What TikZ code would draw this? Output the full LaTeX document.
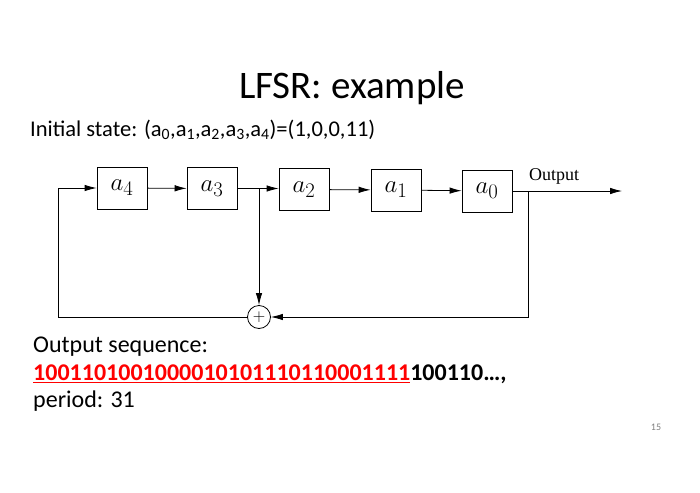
\documentclass[tikz,border=0pt]{standalone}
\usepackage{fontspec}
\setmainfont{Carlito}
\newfontfamily\serifout{Liberation Serif}
\usetikzlibrary{arrows.meta}
\begin{document}
\begin{tikzpicture}[x=1pt,y=-1pt,
  reg/.style={draw,line width=0.8pt,minimum width=50pt,minimum height=42pt,inner sep=0pt,font=\fontsize{28}{28}\selectfont},
  ar/.style={line width=0.8pt,-{Latex[length=12pt,width=6.5pt]}},
  ln/.style={line width=0.8pt}]
\useasboundingbox (0,0) rectangle (700,492);
\node[font=\fontsize{39}{39}\selectfont] (title) at (352,88) {LFSR: example};
\node[anchor=west,font=\fontsize{22.5}{22.5}\selectfont,inner sep=0pt] (init) at (30,130) {Initial state: (a\textsubscript{0},a\textsubscript{1},a\textsubscript{2},a\textsubscript{3},a\textsubscript{4})=(1,0,0,11)};
\node[reg] (a4) at (122,188) {$a_4$};
\node[reg] (a3) at (212,188.5) {$a_3$};
\node[reg] (a2) at (304,189.5) {$a_2$};
\node[reg] (a1) at (396,190) {$a_1$};
\node[reg] (a0) at (487,191) {$a_0$};
\node[draw,circle,line width=0.8pt,minimum size=23pt,inner sep=0pt,font=\fontsize{17}{17}\selectfont] (plus) at (259,317) {$+$};
\coordinate (br) at (259,188.5);
\coordinate (a2in) at (a2.west|-br);
\coordinate (out) at (622,191);
\coordinate (rt) at (528,191);
\coordinate (lb) at (58,317);
\coordinate (lt) at (58,188);
\node[anchor=south west,font=\fontsize{18}{18}\serifout,inner sep=1pt] (olab) at (528,186) {Output};
\draw[ar] (lt) -- (a4);
\draw[ar] (a4) -- (a3);
\draw[ar] (a3.east) -- (a2in);
\draw[ar] (a2) -- (a1);
\draw[ar] (a1) -- (a0);
\draw[ar] (a0.east|-out) -- (out);
\draw[ar] (br) -- (plus);
\draw[ar] (rt) |- (plus);
\draw[ln] (plus) -- (lb) -- (lt);
\node[anchor=west,font=\fontsize{24}{24}\selectfont,inner sep=0pt] (os) at (33,347) {Output sequence:};
\node[anchor=west,font=\fontsize{24}{24}\selectfont\bfseries,inner sep=0pt] (seq) at (33,374) {\textcolor{red}{\underline{1001101001000010101110110001111}}100110…,};
\node[anchor=west,font=\fontsize{24}{24}\selectfont,inner sep=0pt] (per) at (33,401) {period: 31};
\node[font=\fontsize{10}{10}\selectfont,text=gray] (pg) at (656,427) {15};
\end{tikzpicture}
\end{document}
